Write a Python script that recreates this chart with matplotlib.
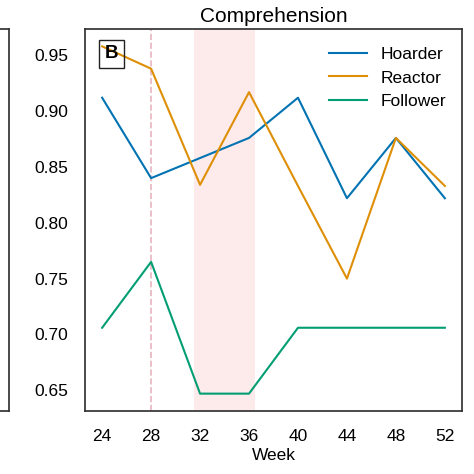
import matplotlib.pyplot as plt

weeks = [24, 28, 32, 36, 40, 44, 48, 52]
hoarder = [0.912, 0.840, 0.858, 0.876, 0.912, 0.822, 0.876, 0.822]
reactor = [0.958, 0.938, 0.834, 0.917, 0.833, 0.750, 0.876, 0.833]
follower = [0.706, 0.765, 0.647, 0.647, 0.706, 0.706, 0.706, 0.706]
labels = ["Hoarder", "Reactor", "Follower"]
colors = ["#0173b2", "#de8f05", "#029e73"]

plt.rcParams["font.family"] = ["Liberation Sans", "DejaVu Sans"]
plt.rcParams["font.size"] = 12.5

fig = plt.figure(figsize=(4.74, 4.74), dpi=100)

# cut-off neighbour panel on the left
ax0 = fig.add_axes([-0.5, 1 - 411 / 474, 0.5 + 9 / 474, 382 / 474])
ax0.set_xticks([])
ax0.set_yticks([])
for s in ax0.spines.values():
    s.set_color("#333333")
    s.set_linewidth(1.25)

ax = fig.add_axes([85 / 474, 1 - 411 / 474, 377 / 474, 382 / 474])
ax.axvspan(31.5, 36.5, color="#fde3e3", alpha=0.7, lw=0, zorder=0)
ax.axvline(28, color="#e8b4c0", ls="--", lw=1.2, zorder=1)
for vals, lab, c in zip([hoarder, reactor, follower], labels, colors):
    ax.plot(weeks, vals, color=c, lw=1.5, label=lab)

ax.set_xticks(weeks)
ax.set_yticks([0.65, 0.70, 0.75, 0.80, 0.85, 0.90, 0.95])
ax.tick_params(axis="y", length=0, pad=12)
ax.tick_params(axis="x", length=0, pad=13)
ax.set_xlabel("Week", labelpad=3)
ax.set_title("Comprehension", pad=5)
for s in ax.spines.values():
    s.set_color("#333333")
    s.set_linewidth(1.25)

ax.legend(loc="upper right", frameon=False, handlelength=2.2,
          labelspacing=0.5, bbox_to_anchor=(1.0, 0.995))
ax.text(0.07, 0.935, "B", transform=ax.transAxes, fontsize=13.5, fontweight="bold",
        ha="center", va="center",
        bbox=dict(boxstyle="square,pad=0.3", fc="none", ec="#222222", lw=1.0))

fig.savefig("out.png", dpi=100)
